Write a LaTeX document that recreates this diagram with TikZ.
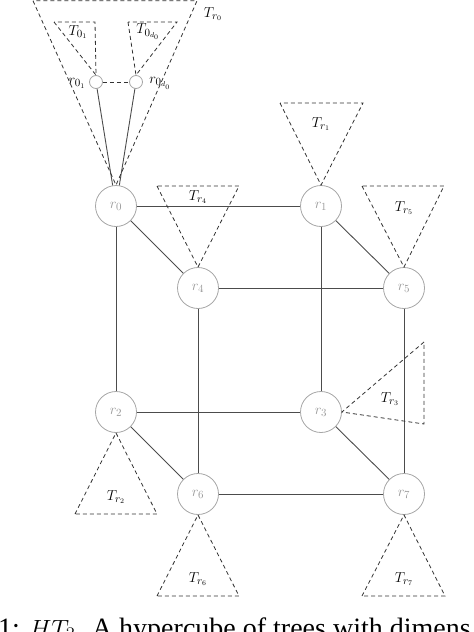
\documentclass[tikz,border=0pt]{standalone}
\usepackage{fontspec}
\newfontfamily\capfont{Liberation Serif}
\begin{document}
\begin{tikzpicture}[x=1pt,y=-1pt,
  big/.style={circle,draw=black!35,line width=0.8pt,minimum size=41pt,inner sep=0pt,text=black!40,font=\fontsize{15}{18}\selectfont},
  small/.style={circle,draw=black!35,line width=0.8pt,minimum size=13pt,inner sep=0pt},
  lab/.style={font=\fontsize{15}{18}\selectfont,inner sep=0pt},
  edge/.style={draw=black!70,line width=0.9pt},
  tri/.style={draw=black!80,line width=0.8pt,dash pattern=on 4pt off 3pt}]
\useasboundingbox (0,0) rectangle (474,632);
\clip (0,0) rectangle (474,632);
% cube nodes
\node[big] (r0) at (116,206) {$r_0$};
\node[big] (r1) at (321,206) {$r_1$};
\node[big] (r4) at (198,288) {$r_4$};
\node[big] (r5) at (404,288) {$r_5$};
\node[big] (r2) at (116,412) {$r_2$};
\node[big] (r3) at (321,412) {$r_3$};
\node[big] (r6) at (198,494) {$r_6$};
\node[big] (r7) at (404,494) {$r_7$};
% small nodes
\node[small] (s1) at (96,82) {};
\node[small] (sd) at (136,82) {};
% cube edges
\draw[edge] (r0) -- (r1);
\draw[edge] (r0) -- (r4);
\draw[edge] (r1) -- (r5);
\draw[edge] (r4) -- (r5);
\draw[edge] (r0) -- (r2);
\draw[edge] (r1) -- (r3);
\draw[edge] (r4) -- (r6);
\draw[edge] (r5) -- (r7);
\draw[edge] (r2) -- (r3);
\draw[edge] (r2) -- (r6);
\draw[edge] (r3) -- (r7);
\draw[edge] (r6) -- (r7);
\draw[edge] (s1) -- (r0);
\draw[edge] (sd) -- (r0);
\draw[tri] (s1) -- (sd);
% triangle corners
\coordinate (a0) at (33,0.8);   \coordinate (b0) at (197,0.8);
\coordinate (a01) at (54,22);   \coordinate (b01) at (95,22);
\coordinate (a0d) at (128,22);  \coordinate (b0d) at (177,22);
\coordinate (a1) at (280,103);  \coordinate (b1) at (363,103);
\coordinate (a4) at (157,186);  \coordinate (b4) at (239,186);
\coordinate (a5) at (362,186);  \coordinate (b5) at (444,186);
\coordinate (a3) at (424,342);  \coordinate (b3) at (424,424);
\coordinate (a2) at (75,514);   \coordinate (b2) at (157,514);
\coordinate (a6) at (157,596);  \coordinate (b6) at (239,596);
\coordinate (a7) at (362,596);  \coordinate (b7) at (445,596);
% triangles
\draw[tri] (a0) -- (r0.north) -- (b0) -- cycle;
\draw[tri] (a01) -- (s1.north) -- (b01) -- cycle;
\draw[tri] (a0d) -- (sd.north) -- (b0d) -- cycle;
\draw[tri] (a1) -- (r1.north) -- (b1) -- cycle;
\draw[tri] (a4) -- (r4.north) -- (b4) -- cycle;
\draw[tri] (a5) -- (r5.north) -- (b5) -- cycle;
\draw[tri] (a3) -- (r3.east) -- (b3) -- cycle;
\draw[tri] (a2) -- (r2.south) -- (b2) -- cycle;
\draw[tri] (a6) -- (r6.south) -- (b6) -- cycle;
\draw[tri] (a7) -- (r7.south) -- (b7) -- cycle;
% labels
\node[lab] (t0) at (213,14) {$T_{r_0}$};
\node[lab] (t01) at (78,32) {$T_{0_1}$};
\node[lab] (t0d) at (148,32) {$T_{0_{d_0}}$};
\node[lab] (l01) at (77,83) {$r_{0_1}$};
\node[lab] (l0d) at (160,83) {$r_{0_{d_0}}$};
\node[lab] (t1) at (321,124) {$T_{r_1}$};
\node[lab] (t4) at (198,197) {$T_{r_4}$};
\node[lab] (t5) at (404,208) {$T_{r_5}$};
\node[lab] (t3) at (390,399) {$T_{r_3}$};
\node[lab] (t2) at (116,497) {$T_{r_2}$};
\node[lab] (t6) at (198,579) {$T_{r_6}$};
\node[lab] (t7) at (404,579) {$T_{r_7}$};
% caption
\node[anchor=base west,inner sep=0pt,font=\fontsize{28}{34}\capfont] (cap) at (-2,637) {1: $HT_3$. A hypercube of trees with dimens};
\end{tikzpicture}
\end{document}
